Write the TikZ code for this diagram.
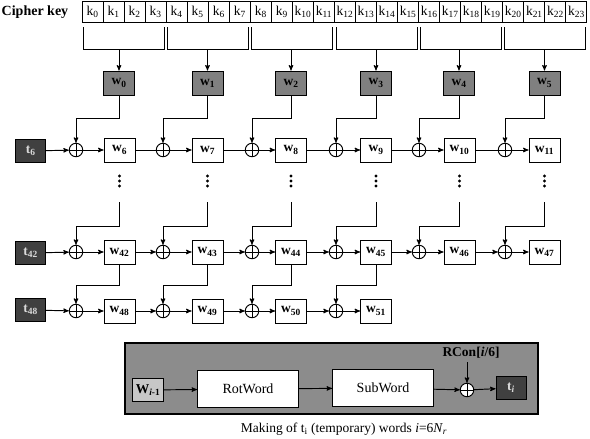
\documentclass[tikz,border=0pt]{standalone}
\usepackage{fontspec}
\setmainfont{Liberation Serif}
\usetikzlibrary{arrows}

\definecolor{wgray}{gray}{0.5}
\definecolor{tdark}{gray}{0.25}
\definecolor{panel}{gray}{0.55}
\definecolor{lgray}{gray}{0.78}

\tikzset{
	keybox/.style={draw, minimum width=21.04pt, minimum height=21pt, inner sep=0pt, font=\fontsize{13.5}{13.5}\selectfont},
	wbox/.style={draw, minimum width=31pt, minimum height=24pt, inner sep=0pt, font=\fontsize{13.5}{13.5}\selectfont\bfseries},
	tbox/.style={wbox, fill=tdark, text=white!85!black, minimum width=30pt, minimum height=23pt},
	fbox/.style={draw, fill=white, minimum width=101pt, minimum height=37pt, font=\fontsize{14}{14}\selectfont},
	xorc/.style={circle, draw, minimum size=13.5pt, inner sep=0pt,
		path picture={\draw (path picture bounding box.north) -- (path picture bounding box.south)
			(path picture bounding box.west) -- (path picture bounding box.east);}},
}

\begin{document}
\begin{tikzpicture}[x=1pt, y=-1pt, >=stealth', line width=0.95pt]
	\useasboundingbox (0,0) rectangle (590,439);

	\node[font=\fontsize{14}{14}\selectfont\bfseries] (ck) at (35,12) {Cipher key};
	\foreach \i in {0,...,23}
		\node[keybox] (k\i) at (92.52+21.04*\i,11.5) {k\textsubscript{\i}};

	% words w0..w5 taken from the key
	\foreach \c [count=\j from 0] in {119,207.5,291,376,459,544.5} {
		\pgfmathtruncatemacro\a{4*\j}
		\pgfmathtruncatemacro\b{4*\j+3}
		\node[wbox, fill=wgray] (w\j) at (\c,83) {w\textsubscript{\j}};
		\draw ([shift={(2pt,-5pt)}]k\a.south west) -- ++(0,22) coordinate (b\j) -| ([shift={(-2pt,-5pt)}]k\b.south east);
		\draw[->] (b\j -| w\j) -- (w\j.north);
	}

	\node[tbox] (t6) at (30.7,151) {t\textsubscript{6}};
	\node[tbox] (t42) at (30.7,253) {t\textsubscript{42}};
	\node[tbox] (t48) at (30.7,310) {t\textsubscript{48}};

	% rows of w6..w11 and w42..w47
	\foreach \c/\x [count=\j from 0] in {119.5/76,207.5/163,291/252,376/336,459.5/419,544.5/505} {
		\pgfmathtruncatemacro\n{6+\j}
		\pgfmathtruncatemacro\m{42+\j}
		\node[xorc] (xa\j) at (\x,150) {};
		\node[wbox] (ra\j) at (\c,150) {w\textsubscript{\n}};
		\draw[->] (w\j.south) -- ++(0,23) -| (xa\j.north);
		\draw[->] (xa\j) -- (ra\j);
		\fill (\c,176) circle (1.6pt) (\c,181) circle (1.6pt) (\c,186) circle (1.6pt);
		\coordinate (up\j) at (\c,202);
		\node[xorc] (xb\j) at (\x,252) {};
		\node[wbox] (rb\j) at (\c,252) {w\textsubscript{\m}};
		\draw[->] (up\j) -- ++(0,24) -| (xb\j.north);
		\draw[->] (xb\j) -- (rb\j);
	}
	\foreach \j [count=\k] in {0,...,4}
		\draw[->] (ra\j) -- (xa\k) (rb\j) -- (xb\k);

	% last row w48..w51
	\foreach \c/\x [count=\j from 0] in {119.5/76,207.5/163,291/252,376/336} {
		\pgfmathtruncatemacro\n{48+\j}
		\node[xorc] (xc\j) at (\x,311) {};
		\node[wbox] (rc\j) at (\c,311) {w\textsubscript{\n}};
		\draw[->] (rb\j.south) -- ++(0,21) -| (xc\j.north);
		\draw[->] (xc\j) -- (rc\j);
	}
	\foreach \j [count=\k] in {0,...,2}
		\draw[->] (rc\j) -- (xc\k);

	\draw[->] (t6) -- (xa0);
	\draw[->] (t42) -- (xb0);
	\draw[->] (t48) -- (xc0);

	% making of t_i
	\node[draw, line width=1.5pt, fill=panel, minimum width=413pt, minimum height=71pt] (mk) at (331.5,378.5) {};
	\node[wbox, fill=lgray, minimum height=23pt] (wp) at (148,390) {W\textsubscript{\textit{i}-1}};
	\node[fbox] (rot) at (248,389) {RotWord};
	\node[fbox] (sub) at (383,388) {SubWord};
	\node[xorc, fill=white] (xr) at (467,390) {};
	\node[tbox] (ti) at (511,388) {t\textsubscript{\textit{i}}};
	\node[font=\fontsize{13.5}{13.5}\selectfont\bfseries] (rcon) at (471,353) {RCon[\textit{i}/6]};

	\draw[->] (wp) -- (rot);
	\draw[->] (rot) -- (sub);
	\draw[->] (sub) -- (xr);
	\draw[->] (xr) -- (ti);
	\draw[->] (rcon.south -| xr) -- (xr.north);

	\node[font=\fontsize{13.5}{13.5}\selectfont] (cap) at (344,429)
		{Making of t\textsubscript{i} (temporary) words \textit{i}=6\textit{N}\textsubscript{\textit{r}}};
\end{tikzpicture}
\end{document}
